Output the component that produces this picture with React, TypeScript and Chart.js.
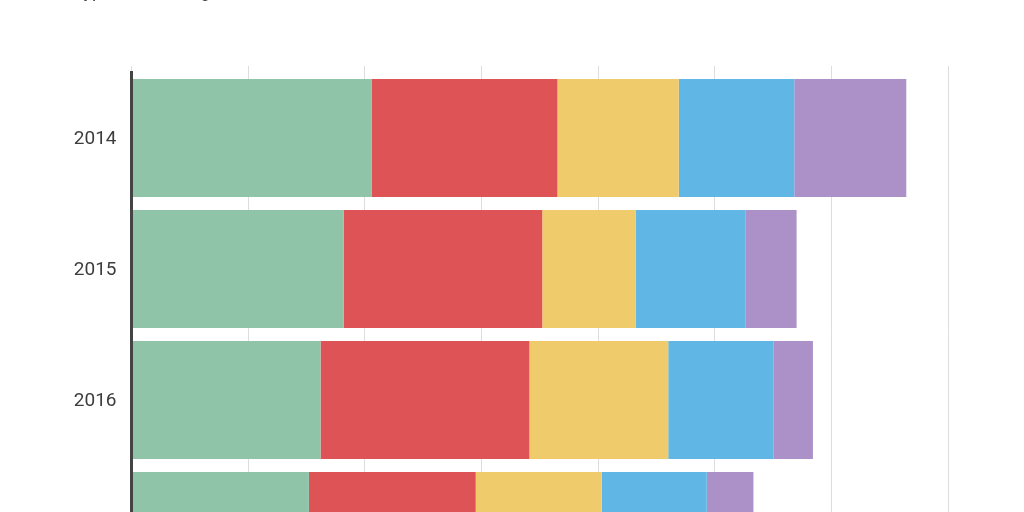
import React, { useEffect, useRef } from "react";
import { Chart, registerables } from "chart.js";

Chart.register(...registerables);

const titleText = "Types of housing";
const years = ["2014", "2015", "2016", "2017"];
const seriesNames = ["Detached", "Semi-detached", "Terraced", "Flats", "Other"];
const detached = [20.6, 18.2, 16.2, 15.2];
const semiDetached = [15.9, 17.0, 17.9, 14.3];
const terraced = [10.4, 8.0, 11.9, 10.8];
const flats = [9.9, 9.4, 9.0, 9.0];
const other = [9.6, 4.4, 3.4, 4.0];
const seriesColors = ["#8fc4a8", "#dd5356", "#efcb6b", "#60b6e4", "#ac91c8"];
const xMin = 0;
const xMax = 70;
const xStep = 10;

export default function App() {
  const canvasRef = useRef<HTMLCanvasElement | null>(null);

  useEffect(() => {
    if (!canvasRef.current) return;
    const values = [detached, semiDetached, terraced, flats, other];
    const chart = new Chart(canvasRef.current, {
      type: "bar",
      data: {
        labels: years,
        datasets: seriesNames.map((name, i) => ({
          label: name,
          data: values[i],
          backgroundColor: seriesColors[i],
          borderWidth: 0,
          barPercentage: 0.9,
          categoryPercentage: 1,
        })),
      },
      options: {
        indexAxis: "y",
        animation: false,
        responsive: true,
        maintainAspectRatio: false,
        layout: { padding: { left: 73.5, right: 75.7, top: 0, bottom: 10.5 } },
        plugins: {
          legend: { display: false },
          tooltip: { enabled: false },
          title: {
            display: true,
            text: titleText,
            align: "start",
            color: "#444444",
            font: { family: "Roboto", size: 18, weight: "normal" },
            padding: { top: 22, bottom: 62.4 },
          },
        },
        scales: {
          x: {
            type: "linear",
            position: "bottom",
            stacked: true,
            min: xMin,
            max: xMax,
            afterFit: (scale: any) => {
              scale.height = 45;
            },
            ticks: {
              stepSize: xStep,
              color: "#444444",
              padding: 8,
              font: { family: "Roboto", size: 19 },
            },
            grid: { color: "#dddddd", lineWidth: 1, drawTicks: true, tickLength: 8 },
            border: { display: false },
          },
          x2: {
            type: "linear",
            position: "top",
            min: xMin,
            max: xMax,
            ticks: { stepSize: xStep, display: false },
            grid: {
              color: "#dddddd",
              lineWidth: 1,
              drawOnChartArea: false,
              drawTicks: true,
              tickLength: 6.5,
            },
            border: { display: false },
          },
          y: {
            type: "category",
            position: "left",
            stacked: true,
            afterFit: (scale: any) => {
              scale.width = 58;
            },
            ticks: {
              color: "#3d3d3d",
              padding: 15,
              labelOffset: 1.5,
              font: { family: "Roboto", size: 19 },
            },
            grid: { display: false, drawTicks: false },
            border: { display: true, color: "#444444", width: 3, z: 1 },
          },
        },
      },
    });
    return () => chart.destroy();
  }, []);

  return (
    <div
      style={{
        position: "fixed",
        left: 0,
        top: 0,
        width: 1024,
        height: 512,
        overflow: "hidden",
        background: "#ffffff",
      }}
    >
      <div style={{ position: "absolute", left: 0, top: -40, width: 1024, height: 692 }}>
        <canvas ref={canvasRef} />
      </div>
    </div>
  );
}
